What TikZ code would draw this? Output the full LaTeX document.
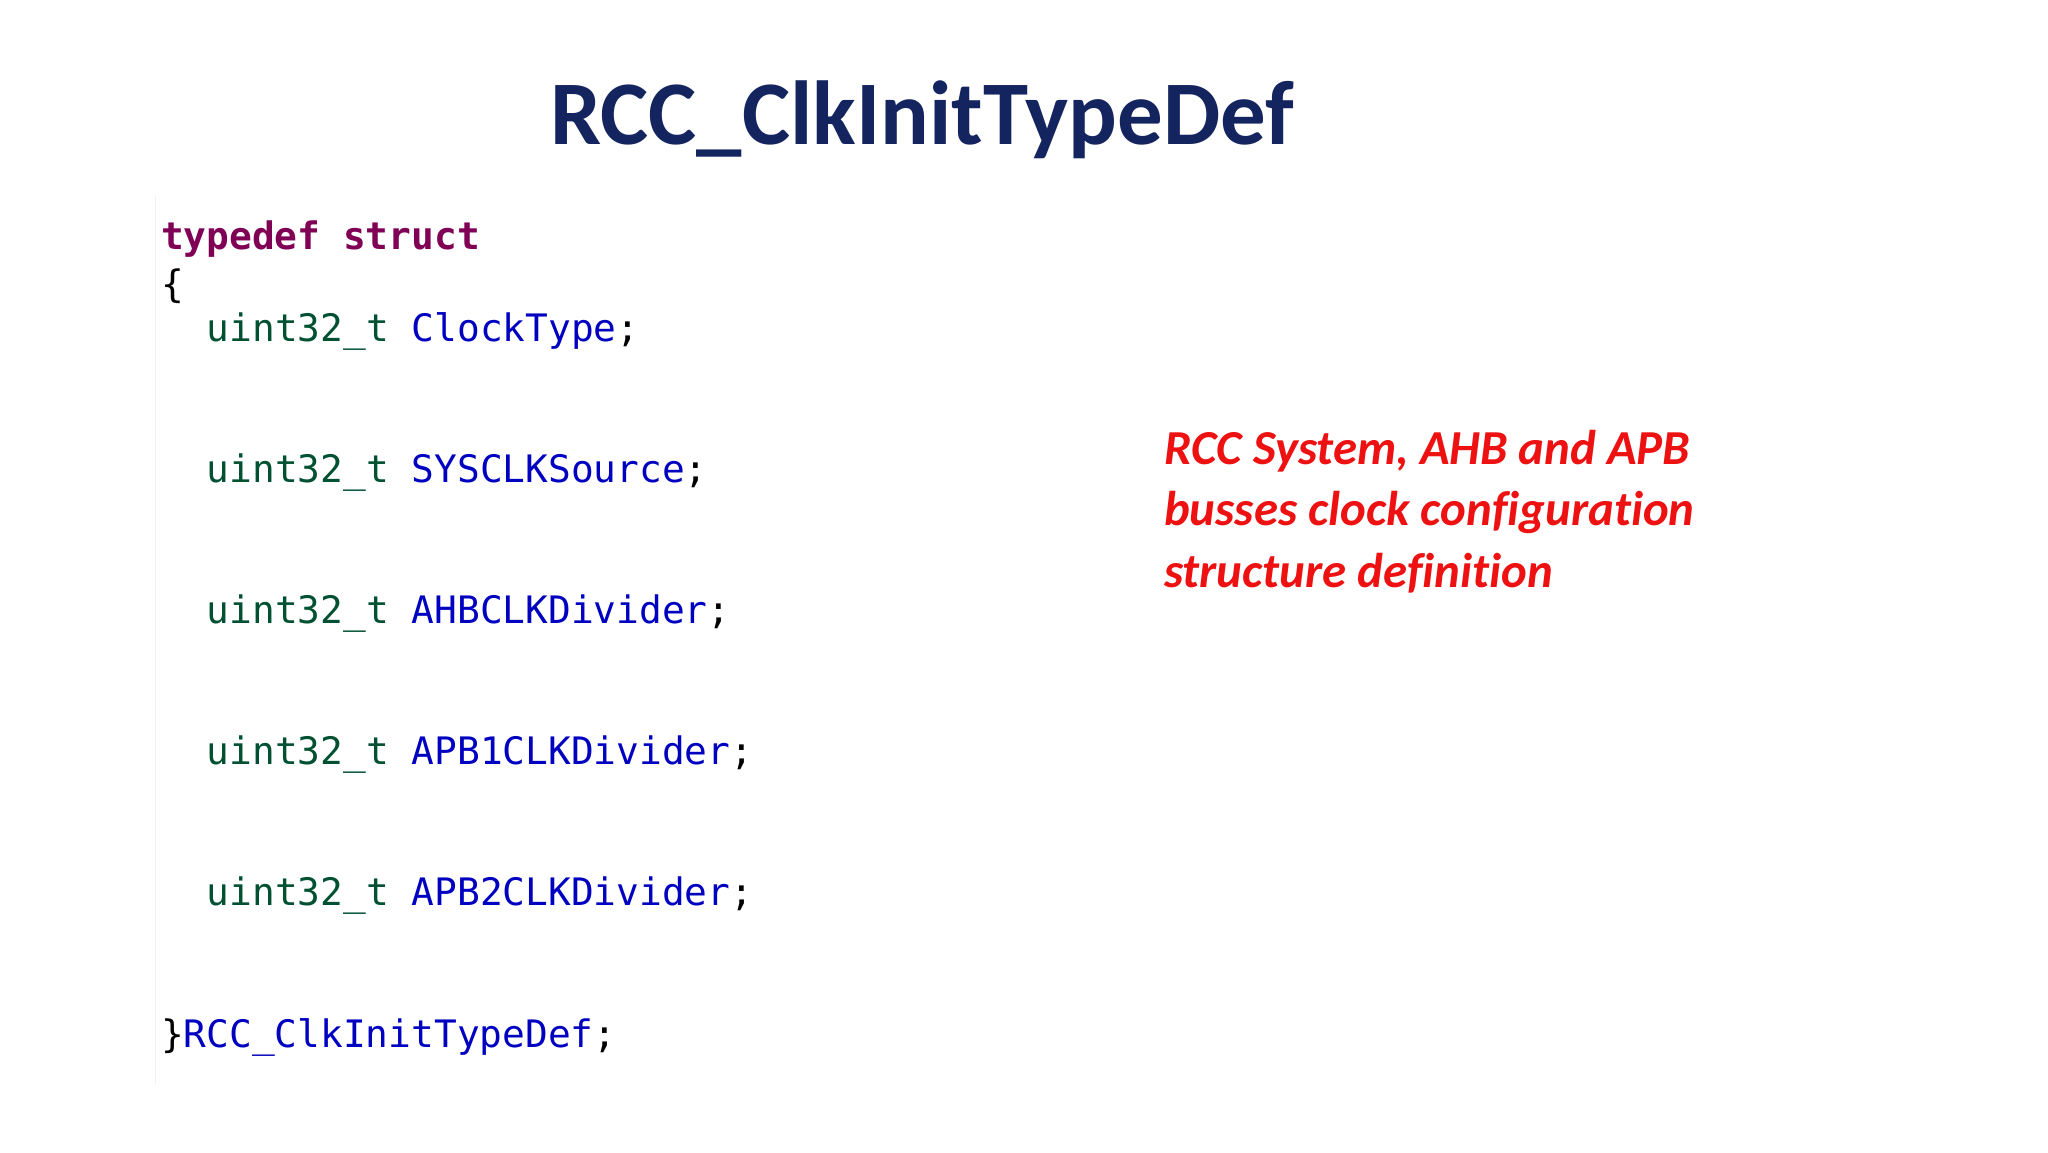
\documentclass[tikz,border=0pt]{standalone}
\usepackage{fontspec}
\setmainfont{Carlito}
\newfontfamily\notefont[Ligatures=NoCommon]{Carlito}
\newfontfamily\codefont{DejaVu Sans Mono}
\definecolor{titleblue}{HTML}{14245E}
\definecolor{kw}{HTML}{7F0055}
\definecolor{typ}{HTML}{005032}
\definecolor{idf}{HTML}{0000C0}
\definecolor{redtxt}{HTML}{EE1111}
\begin{document}
\begin{tikzpicture}[x=0.25mm,y=-0.25mm,
  code/.style={anchor=west,inner sep=0pt,font=\codefont\fontsize{20.6pt}{24pt}\selectfont},
  note/.style={anchor=north west,inner sep=0pt,align=left,text=redtxt,font=\notefont\bfseries\itshape\fontsize{26.6pt}{33.5pt}\selectfont}]
\fill[white] (0,0) rectangle (1568,882);
\useasboundingbox (0,0) rectangle (1568,882);
\draw[black!6,line width=0.5pt] (119,150) -- (119,830);
\node[anchor=center,inner sep=0pt,text=titleblue,font=\bfseries\fontsize{49.5pt}{56pt}\selectfont] (title) at (706,92) {RCC\_ClkInitTypeDef};
\node[code,text=kw,font=\codefont\bfseries\fontsize{20.6pt}{24pt}\selectfont] (l1) at (123,183) {typedef struct};
\node[code] (l2) at (123,219) {\{};
\node[code] (l3) at (158,254) {\textcolor{typ}{uint32\_t} \textcolor{idf}{ClockType};};
\node[code] (l4) at (158,362) {\textcolor{typ}{uint32\_t} \textcolor{idf}{SYSCLKSource};};
\node[code] (l5) at (158,470) {\textcolor{typ}{uint32\_t} \textcolor{idf}{AHBCLKDivider};};
\node[code] (l6) at (158,578) {\textcolor{typ}{uint32\_t} \textcolor{idf}{APB1CLKDivider};};
\node[code] (l7) at (158,686) {\textcolor{typ}{uint32\_t} \textcolor{idf}{APB2CLKDivider};};
\node[code] (l8) at (123,794) {\}\textcolor{idf}{RCC\_ClkInitTypeDef};};
\node[note] (n) at (891,329) {RCC System, AHB and APB\\busses clock configuration\\structure definition};
\end{tikzpicture}
\end{document}
